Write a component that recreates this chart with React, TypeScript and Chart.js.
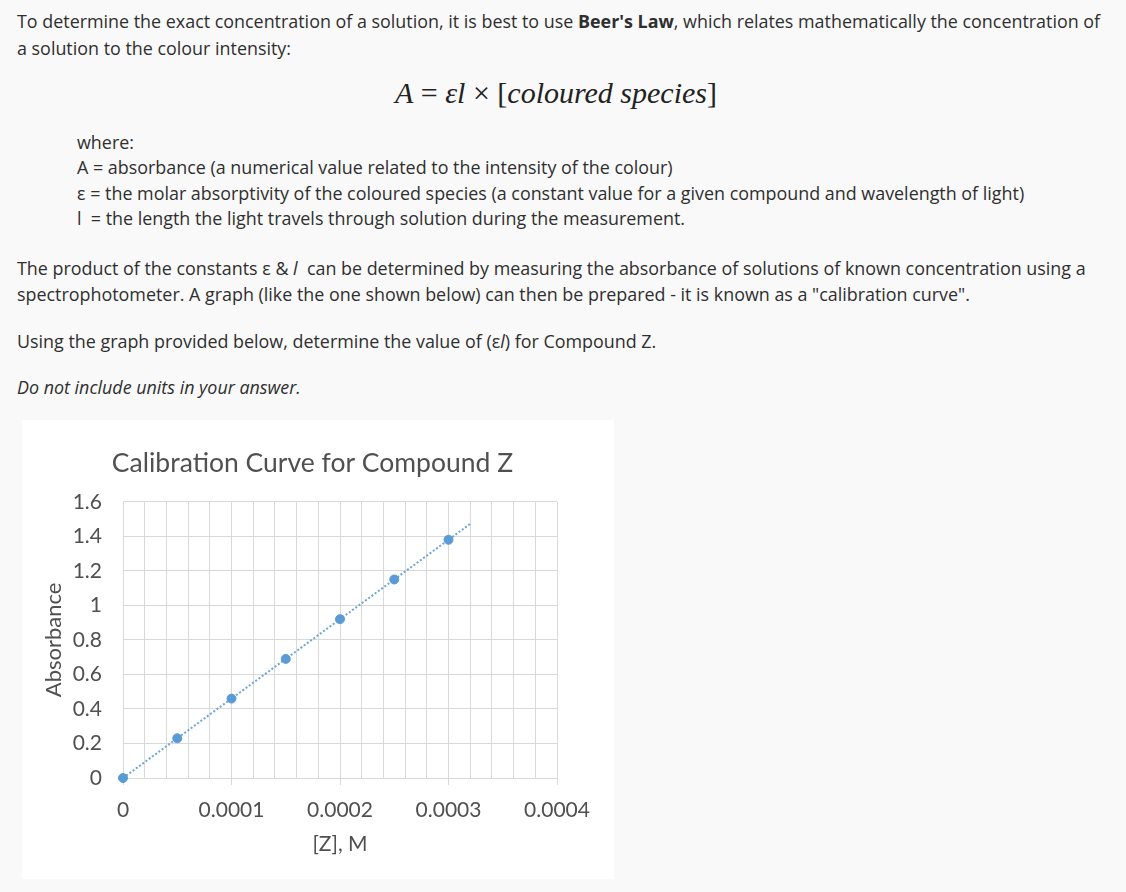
import React, { useEffect, useRef } from 'react';
import { Chart, registerables } from 'chart.js';

Chart.register(...registerables);

// ---- Data ----
const concentrations = [0, 0.00005, 0.0001, 0.00015, 0.0002, 0.00025, 0.0003];
const absorbances = [0, 0.23, 0.46, 0.69, 0.92, 1.15, 1.38];
const trendEndX = 0.00032;
const xTickLabels = ['0', '0.0001', '0.0002', '0.0003', '0.0004'];
const xMinorPerMajor = 5;
const yTickLabels = ['0', '0.2', '0.4', '0.6', '0.8', '1', '1.2', '1.4', '1.6'];
const yTickValues = [0, 0.2, 0.4, 0.6, 0.8, 1, 1.2, 1.4, 1.6];
const xMajorValues = [0, 0.0001, 0.0002, 0.0003, 0.0004];
const chartTitle = 'Calibration Curve for Compound Z';
const xTitle = '[Z], M';
const yTitle = 'Absorbance';

const BLUE = '#5b9bd5';
const GRID = '#d9d9d9';
const LABEL = '#505050';
const CHART_FONT = 'Lato, "Open Sans", sans-serif';

function linearFit(xs: number[], ys: number[]) {
  const n = xs.length;
  const mx = xs.reduce((a, b) => a + b, 0) / n;
  const my = ys.reduce((a, b) => a + b, 0) / n;
  let num = 0;
  let den = 0;
  for (let i = 0; i < n; i++) {
    num += (xs[i] - mx) * (ys[i] - my);
    den += (xs[i] - mx) * (xs[i] - mx);
  }
  const m = num / den;
  return { m, b: my - m * mx };
}

function gridValues(): number[] {
  const out: number[] = [];
  for (let i = 0; i < xMajorValues.length - 1; i++) {
    const a = xMajorValues[i];
    const step = (xMajorValues[i + 1] - a) / xMinorPerMajor;
    for (let j = 0; j < xMinorPerMajor; j++) out.push(a + j * step);
  }
  out.push(xMajorValues[xMajorValues.length - 1]);
  return out;
}

function CalibrationChart() {
  const ref = useRef<HTMLCanvasElement | null>(null);
  useEffect(() => {
    if (!ref.current) return;
    const fit = linearFit(concentrations, absorbances);
    const xGrid = gridValues();
    const chart = new Chart(ref.current, {
      type: 'scatter',
      data: {
        datasets: [
          {
            label: 'Absorbance',
            data: concentrations.map((x, i) => ({ x, y: absorbances[i] })),
            backgroundColor: BLUE,
            borderColor: BLUE,
            pointRadius: 4.5,
            pointHoverRadius: 4.5,
            clip: false as any,
            order: 1,
          },
          {
            label: 'Trendline',
            type: 'line' as any,
            data: [
              { x: 0, y: fit.b },
              { x: trendEndX, y: fit.b + fit.m * trendEndX },
            ],
            borderColor: 'rgba(91,155,213,0.9)',
            borderWidth: 2,
            borderDash: [2, 2],
            pointRadius: 0,
            showLine: true,
            fill: false,
            clip: false as any,
            order: 2,
          } as any,
        ],
      },
      options: {
        animation: false,
        responsive: false,
        maintainAspectRatio: false,
        layout: { padding: { left: 0, right: 11, top: 0, bottom: 0 } },
        plugins: {
          legend: { display: false },
          tooltip: { enabled: false },
          title: {
            display: true,
            text: chartTitle,
            color: LABEL,
            font: { family: CHART_FONT, size: 26.5, weight: 'normal', lineHeight: 1.2 },
            padding: { top: 28, bottom: 22 },
          },
        },
        scales: {
          x: {
            type: 'linear',
            min: 0,
            max: 0.0004,
            afterBuildTicks: (s: any) => {
              s.ticks = xGrid.map((v) => ({ value: v }));
            },
            afterFit: (s: any) => {
              s.height = 101;
            },
            ticks: {
              autoSkip: false,
              maxRotation: 0,
              minRotation: 0,
              padding: 13,
              color: LABEL,
              font: { family: CHART_FONT, size: 21 },
              callback: (_v: any, i: number) =>
                i % xMinorPerMajor === 0 ? xTickLabels[i / xMinorPerMajor] : '',
            },
            grid: {
              color: GRID,
              lineWidth: 1,
              tickLength: 7,
              tickColor: (ctx: any) =>
                ctx.index % xMinorPerMajor === 0 ? GRID : 'rgba(0,0,0,0)',
            },
            border: { color: GRID },
            title: {
              display: true,
              text: xTitle,
              color: LABEL,
              font: { family: CHART_FONT, size: 21, lineHeight: 1.2 },
              padding: { top: 0, bottom: 22 },
            },
          },
          y: {
            type: 'linear',
            min: 0,
            max: 1.6,
            afterBuildTicks: (s: any) => {
              s.ticks = yTickValues.map((v) => ({ value: v }));
            },
            afterFit: (s: any) => {
              s.width = 101;
            },
            ticks: {
              autoSkip: false,
              padding: 21,
              color: LABEL,
              font: { family: CHART_FONT, size: 21 },
              callback: (_v: any, i: number) => yTickLabels[i],
            },
            grid: { color: GRID, lineWidth: 1, drawTicks: false },
            border: { color: GRID },
            title: {
              display: true,
              text: yTitle,
              color: LABEL,
              font: { family: CHART_FONT, size: 22, lineHeight: 1.2 },
              padding: { top: 19, bottom: 0 },
            },
          },
          yRightSpace: {
            type: 'linear',
            position: 'right',
            display: true,
            min: 0,
            max: 1.6,
            grid: { display: false, drawTicks: false },
            border: { display: false },
            ticks: { display: false },
            afterFit: (s: any) => {
              s.width = 46;
            },
          },
        },
      } as any,
    });
    return () => chart.destroy();
  }, []);
  return <canvas ref={ref} width={592} height={459} style={{ width: 592, height: 459, display: 'block' }} />;
}

const TEXT_FONT = '"Open Sans", Lato, sans-serif';

function Line({ x, cy, children, size = 17.9, style = {} }: any) {
  return (
    <div
      style={{
        position: 'absolute',
        left: x,
        top: cy - 12,
        height: 24,
        lineHeight: '24px',
        fontSize: size,
        whiteSpace: 'nowrap',
        ...style,
      }}
    >
      {children}
    </div>
  );
}

export default function App() {
  return (
    <div
      style={{
        position: 'fixed',
        left: 0,
        top: 0,
        width: 1126,
        height: 892,
        background: '#f9f9f9',
        overflow: 'hidden',
        fontFamily: TEXT_FONT,
        color: '#2f2f2f',
      }}
    >
      <Line x={17} cy={21}>
        To determine the exact concentration of a solution, it is best to use <b>Beer's Law</b>, which relates mathematically the concentration of
      </Line>
      <Line x={17} cy={48}>a solution to the colour intensity:</Line>
      <div
        style={{
          position: 'absolute',
          left: 395,
          top: 73,
          height: 40,
          lineHeight: '40px',
          fontSize: 30,
          fontFamily: '"Liberation Serif", "DejaVu Serif", serif',
          whiteSpace: 'nowrap',
          color: '#222',
        }}
      >
        <i>A</i> = <i>εl</i> × [<i>coloured species</i>]
      </div>
      <Line x={77} cy={142}>where:</Line>
      <Line x={77} cy={167}>A = absorbance (a numerical value related to the intensity of the colour)</Line>
      <Line x={77} cy={193}>ε = the molar absorptivity of the coloured species (a constant value for a given compound and wavelength of light)</Line>
      <Line x={77} cy={218}>l&nbsp; = the length the light travels through solution during the measurement.</Line>
      <Line x={17} cy={268}>
        The product of the constants ε &amp; <i>l</i>&nbsp; can be determined by measuring the absorbance of solutions of known concentration using a
      </Line>
      <Line x={17} cy={294}>
        spectrophotometer. A graph (like the one shown below) can then be prepared - it is known as a "calibration curve".
      </Line>
      <Line x={17} cy={341}>
        Using the graph provided below, determine the value of (ε<i>l</i>) for Compound Z.
      </Line>
      <Line x={17} cy={387} style={{ fontStyle: 'italic' }}>
        Do not include units in your answer.
      </Line>
      <div style={{ position: 'absolute', left: 22, top: 420, width: 592, height: 459, background: '#fff' }}>
        <CalibrationChart />
      </div>
    </div>
  );
}
